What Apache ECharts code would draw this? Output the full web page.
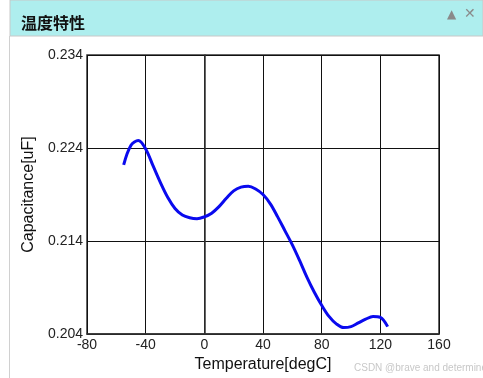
<!DOCTYPE html>
<html>
<head>
<meta charset="utf-8">
<script src="https://cdn.jsdelivr.net/npm/echarts@6/dist/echarts.min.js"></script>
<style>
  html, body { margin: 0; padding: 0; background: #fff; }
  #chart { width: 483px; height: 378px; }
</style>
</head>
<body>
<div id="chart"></div>
<script>
// temperature (degC) and capacitance (uF)
const temps = [-55, -50, -45, -40, -35, -30, -25, -20, -15, -10, -5, 0, 5, 10, 15, 20, 25, 30, 35, 40, 45, 50, 55, 60, 65, 70, 75, 80, 85, 90, 95, 100, 105, 110, 115, 120, 125];
const caps = [0.2222, 0.2243, 0.2248, 0.2239, 0.2221, 0.2203, 0.2187, 0.2175, 0.2168, 0.2165, 0.2164, 0.2166, 0.2170, 0.2177, 0.2186, 0.2194, 0.2198, 0.2199, 0.2196, 0.2190, 0.2180, 0.2166, 0.2151, 0.2136, 0.2119, 0.2101, 0.2085, 0.2071, 0.2059, 0.2051, 0.2047, 0.2048, 0.2052, 0.2056, 0.2059, 0.2058, 0.2048];

const xTicks = { min: -80, max: 160, step: 40 };
const yTicks = { min: 0.204, max: 0.234, step: 0.01 };

const chart = echarts.init(document.getElementById('chart'));

const option = {
    animation: false,
    title: {
        text: '温度特性',
        left: 16,
        top: 10,
        textStyle: {
            fontFamily: 'Noto Sans CJK SC',
            fontSize: 16,
            fontWeight: 'bold',
            color: '#111'
        }
    },
    graphic: [
        {
            type: 'rect',
            z: -1,
            shape: { x: 10, y: 0, width: 473, height: 36 },
            style: { fill: '#aeeeee', stroke: '#c8c8c8', lineWidth: 1 }
        },
        {
            type: 'line',
            shape: { x1: 9.5, y1: 36, x2: 9.5, y2: 378 },
            style: { stroke: '#d0d0d0', lineWidth: 1 }
        },
        {
            type: 'text',
            left: 447,
            top: 9,
            style: { text: '▲', fill: '#8a8a8a', font: '12px "DejaVu Sans"' }
        },
        {
            type: 'text',
            left: 464,
            top: 7,
            style: { text: '✕', fill: '#8a8a8a', font: 'bold 14px "DejaVu Sans"' }
        },
        {
            type: 'text',
            left: 354,
            top: 363,
            style: { text: 'CSDN @brave and determined', fill: '#c8c8c8', font: '10px "Liberation Sans"' }
        }
    ],
    grid: {
        left: 87,
        right: 44,
        top: 55,
        bottom: 43,
        show: true,
        borderColor: '#333',
        borderWidth: 1.5,
        backgroundColor: '#fff'
    },
    xAxis: {
        type: 'value',
        min: xTicks.min,
        max: xTicks.max,
        interval: xTicks.step,
        name: 'Temperature[degC]',
        nameLocation: 'middle',
        nameGap: 21,
        nameTextStyle: { fontFamily: 'Liberation Sans', fontSize: 16, color: '#111' },
        axisLine: { lineStyle: { color: '#333', width: 1.5 } },
        axisTick: { show: false },
        axisLabel: { fontFamily: 'Liberation Sans', fontSize: 14, color: '#222', margin: 4 },
        splitLine: { show: true, lineStyle: { color: '#111', width: 1 } }
    },
    yAxis: {
        type: 'value',
        min: yTicks.min,
        max: yTicks.max,
        interval: yTicks.step,
        name: 'Capacitance[uF]',
        nameLocation: 'middle',
        nameGap: 49,
        nameTextStyle: { fontFamily: 'Liberation Sans', fontSize: 16, color: '#111' },
        axisLine: { lineStyle: { color: '#333', width: 1.5 } },
        axisTick: { show: false },
        axisLabel: {
            fontFamily: 'Liberation Sans',
            fontSize: 14,
            color: '#222',
            margin: 4,
            formatter: function (v) { return v.toFixed(3); }
        },
        splitLine: { show: true, lineStyle: { color: '#111', width: 1 } }
    },
    series: [
        {
            type: 'line',
            data: temps.map((t, i) => [t, caps[i]]),
            smooth: 0.35,
            showSymbol: false,
            lineStyle: { color: '#0a0aee', width: 3 }
        }
    ]
};

chart.setOption(option);
</script>
</body>
</html>
